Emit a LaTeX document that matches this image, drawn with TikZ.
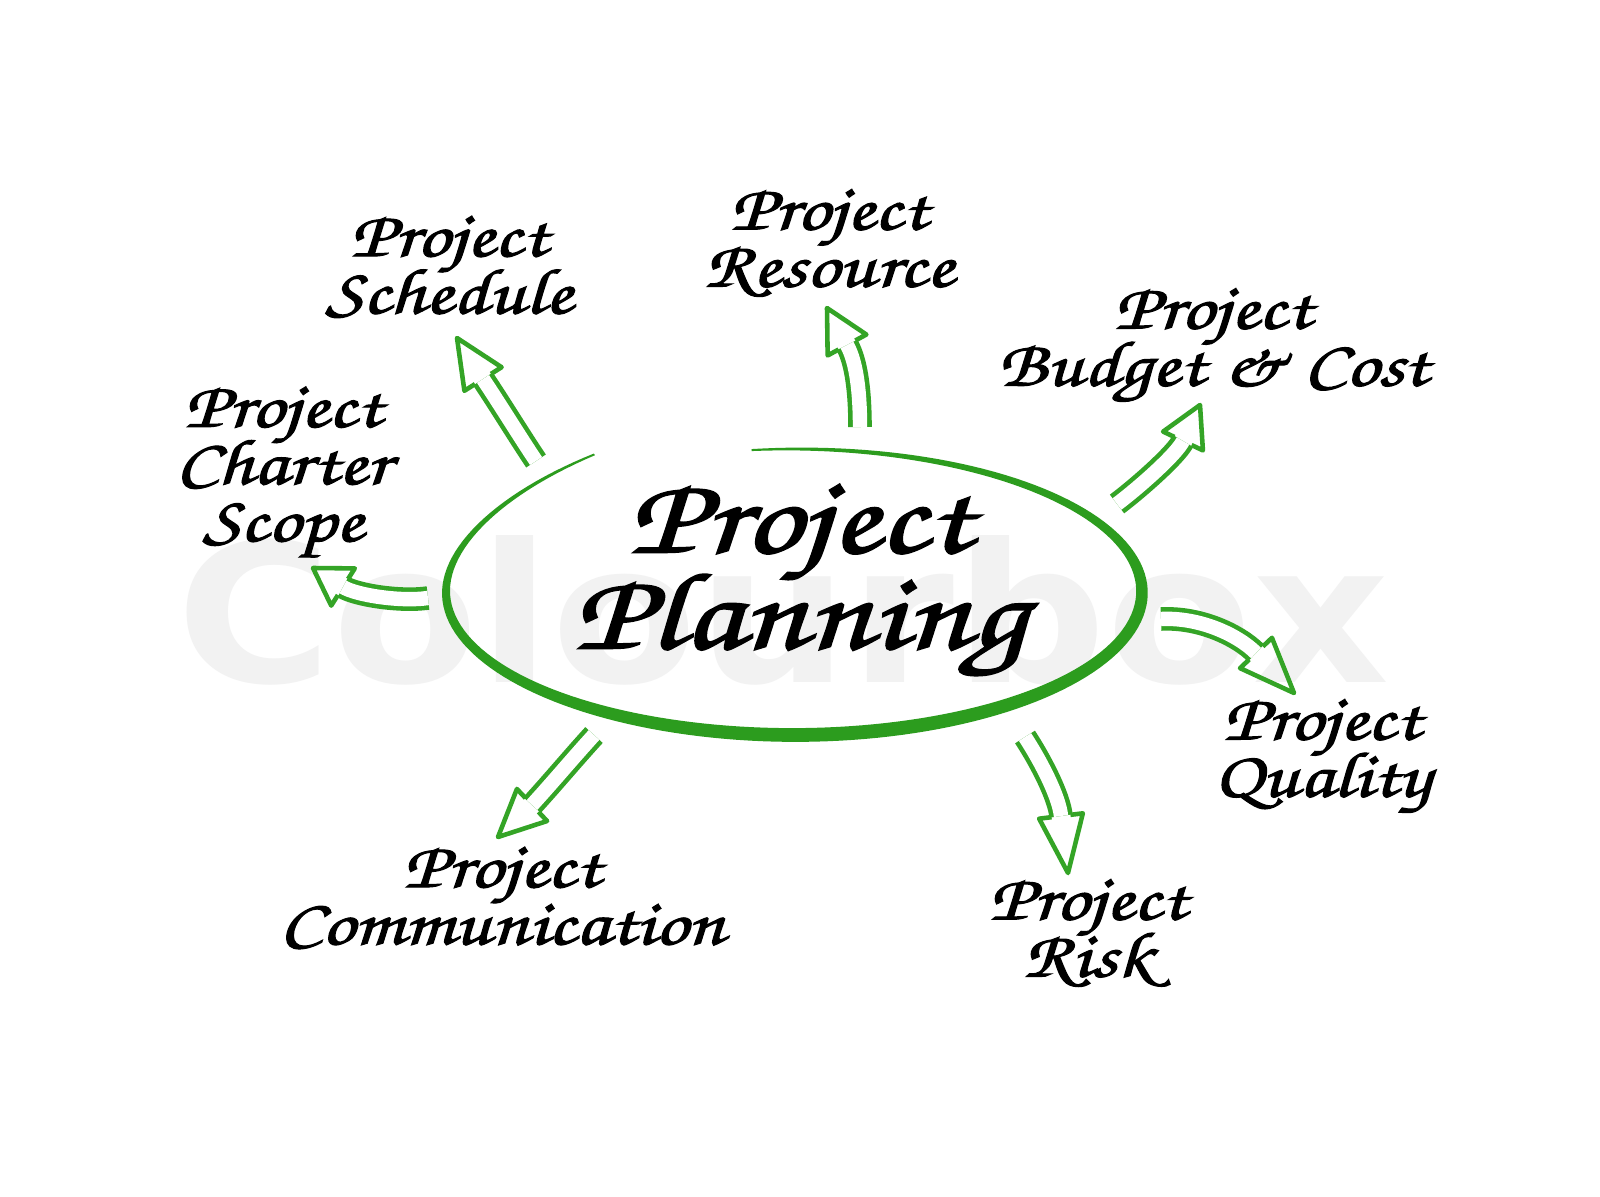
\documentclass[tikz,border=0pt]{standalone}
\usepackage{fontspec}
\newfontfamily\markfont{DejaVu Sans}
\newfontfamily\handfont[FakeBold=1.6]{texgyrechorus-mediumitalic.otf}
\usetikzlibrary{calc}

\definecolor{arrowgreen}{RGB}{52,164,38}
\definecolor{ringgreen}{RGB}{44,156,30}
\newcommand{\tightlines}{\lineskiplimit=-100pt\relax}

% hollow arrow: tail, control 1, control 2, base of head, tip
\newcommand{\hollowarrow}[5]{%
	\draw[shaft] (#1) .. controls (#2) and (#3) .. (#4);
	\draw[tipline] ($(#4)!0.095cm!90:(#5)$) -- ($(#4)!0.22cm!90:(#5)$) -- (#5)
		-- ($(#4)!0.22cm!-90:(#5)$) -- ($(#4)!0.095cm!-90:(#5)$);
}

\begin{document}
\begin{tikzpicture}
	[x=0.01cm,y=-0.01cm,
	 topic/.style={font={\handfont\fontsize{23}{20.3}\selectfont\tightlines}, align=center, inner sep=0pt, yscale=0.8},
	 maintopic/.style={font={\handfont\fontsize{40}{35}\selectfont\tightlines}, align=center, inner sep=0pt, yscale=0.78},
	 shaft/.style={draw=arrowgreen, double=white, line width=1.3pt, double distance=4.1pt},
	 tipline/.style={draw=arrowgreen, line width=1.3pt, line join=round},
	 declare function={pp(\s)=(97-\s)/332; ww(\s)=2+12*sin(180*pp(\s));
		ryy(\s)=143+25*max(0,(-180-\s)/55);}]
	\useasboundingbox[fill=white] (0,0) rectangle (1600,1197);

	\node[font=\markfont\bfseries\fontsize{55}{55}\selectfont, text=black!5, xscale=1.1] (mark) at (783,610) {Colourbox};

	% the ring
	\fill[ringgreen] plot[domain=97:-235,samples=160] ({794+(348+ww(\x)/2)*cos(\x)},{592-(ryy(\x)+ww(\x)/2)*sin(\x)})
		-- plot[domain=-235:97,samples=160] ({794+(348-ww(\x)/2)*cos(\x)},{592-(ryy(\x)-ww(\x)/2)*sin(\x)}) -- cycle;

	\node[maintopic] (plan) at (800,580) {Project\\Planning};
	\node[topic] (sched) at (449,267) {Project\\Schedule};
	\node[topic] (res) at (829,243) {Project\\Resource};
	\node[topic] (budget) at (1213,345) {Project\\Budget \& Cost};
	\node[topic] (charter) at (283,472) {Project\\Charter\\Scope};
	\node[topic] (quality) at (1322,756) {Project\\Quality};
	\node[topic] (risk) at (1088,933) {Project\\Risk};
	\node[topic] (comm) at (502,898) {Project\\Communication};

	\coordinate (schT) at (536,461); \coordinate (schB) at (483,379); \coordinate (schP) at (457,338);
	\coordinate (resT) at (860,427); \coordinate (resB) at (847,345); \coordinate (resP) at (827,308);
	\coordinate (budT) at (1117,504); \coordinate (budB) at (1183,441); \coordinate (budP) at (1200,405);
	\coordinate (chaT) at (428,598); \coordinate (chaB) at (343,587); \coordinate (chaP) at (313,568);
	\coordinate (quaT) at (1161,619); \coordinate (quaB) at (1256,653); \coordinate (quaP) at (1294,693);
	\coordinate (risT) at (1025,737); \coordinate (risB) at (1061,816); \coordinate (risP) at (1068,873);
	\coordinate (comT) at (594,735); \coordinate (comB) at (532,805); \coordinate (comP) at (498,837);

	\hollowarrow{schT}{518,434}{501,406}{schB}{schP}
	\hollowarrow{resT}{860,395}{857,363}{resB}{resP}
	\hollowarrow{budT}{1137,489}{1176,455}{budB}{budP}
	\hollowarrow{chaT}{400,602}{356,595}{chaB}{chaP}
	\hollowarrow{quaT}{1200,617}{1238,635}{quaB}{quaP}
	\hollowarrow{risT}{1040,760}{1059,796}{risB}{risP}
	\hollowarrow{comT}{573,758}{553,782}{comB}{comP}
\end{tikzpicture}
\end{document}
